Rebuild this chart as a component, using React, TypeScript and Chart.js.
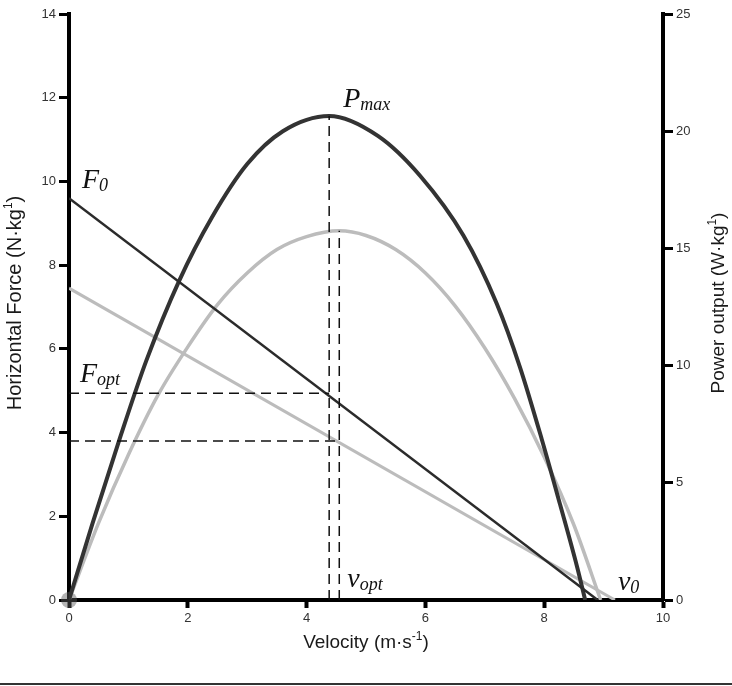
import React, { useEffect, useRef } from "react";
import { Chart, registerables } from "chart.js";

Chart.register(...registerables);

// ---- axis ranges / ticks ----
const velocityTicks = [0, 2, 4, 6, 8, 10];
const forceTicks = [0, 2, 4, 6, 8, 10, 12, 14];
const powerTicks = [0, 5, 10, 15, 20, 25];

// ---- power–velocity curves (W·kg-1) ----
const darkPowerVelocity = [0, 0.4, 0.85, 1.3, 1.86, 2.4, 3.0, 3.6, 4.38, 5.2, 5.91, 6.64, 7.2, 7.59, 7.96, 8.27, 8.55, 8.69];
const darkPowerOutput = [0, 3.3, 6.85, 10.2, 13.65, 16.3, 18.6, 20.0, 20.65, 19.8, 18.1, 15.55, 12.65, 9.95, 6.85, 4.05, 1.45, 0];

const lightPowerVelocity = [0, 0.5, 1.0, 1.5, 2.0, 2.5, 3.0, 3.5, 4.0, 4.55, 5.0, 5.5, 6.0, 6.5, 7.0, 7.5, 8.0, 8.5, 8.95];
const lightPowerOutput = [0, 3.3, 6.2, 8.75, 10.8, 12.6, 13.95, 14.95, 15.5, 15.75, 15.55, 14.95, 13.95, 12.55, 10.75, 8.6, 6.1, 3.2, 0];

// ---- force–velocity lines (N·kg-1) ----
const darkForceVelocity = [0, 8.9];
const darkForce = [9.6, 0];
const lightForceVelocity = [0, 9.19];
const lightForce = [7.45, 0];

// ---- optimal values [dark, light] ----
const vOpt = [4.38, 4.55];
const pMax = [20.65, 15.75];
const fOpt = [4.94, 3.8];

const SANS = "'Liberation Sans', Arial, sans-serif";
const SERIF = "'Liberation Serif', 'Times New Roman', serif";

const zip = (xs: number[], ys: number[]) => xs.map((x, i) => ({ x, y: ys[i] }));

type Run = { t: string; size: number; dy?: number; family?: string; italic?: boolean };

function runsWidth(ctx: CanvasRenderingContext2D, runs: Run[]) {
  let w = 0;
  for (const r of runs) {
    ctx.font = `${r.italic ? "italic " : ""}${r.size}px ${r.family || SANS}`;
    w += ctx.measureText(r.t).width;
  }
  return w;
}

function drawRuns(
  ctx: CanvasRenderingContext2D,
  runs: Run[],
  x: number,
  y: number,
  rot: number,
  align: "left" | "center",
  color: string
) {
  ctx.save();
  ctx.translate(x, y);
  ctx.rotate(rot);
  ctx.fillStyle = color;
  ctx.textBaseline = "alphabetic";
  ctx.textAlign = "left";
  let cx = align === "center" ? -runsWidth(ctx, runs) / 2 : 0;
  for (const r of runs) {
    ctx.font = `${r.italic ? "italic " : ""}${r.size}px ${r.family || SANS}`;
    ctx.fillText(r.t, cx, r.dy || 0);
    cx += ctx.measureText(r.t).width;
  }
  ctx.restore();
}

const annotations = {
  id: "annotations",
  afterDraw(chart: any) {
    const ctx: CanvasRenderingContext2D = chart.ctx;
    const { x, y, y1 } = chart.scales;
    const area = chart.chartArea;
    const titleColor = "#1a1a1a";
    const midY = (area.top + area.bottom) / 2;

    // axis titles
    drawRuns(
      ctx,
      [
        { t: "Velocity (m·s", size: 19 },
        { t: "-1", size: 12, dy: -8 },
        { t: ")", size: 19 },
      ],
      (area.left + area.right) / 2,
      648,
      0,
      "center",
      titleColor
    );
    drawRuns(
      ctx,
      [
        { t: "Horizontal Force (N·kg", size: 20 },
        { t: "1", size: 12, dy: -9 },
        { t: ")", size: 20 },
      ],
      21,
      midY - 4,
      -Math.PI / 2,
      "center",
      titleColor
    );
    drawRuns(
      ctx,
      [
        { t: "Power output (W·kg", size: 19 },
        { t: "1", size: 12, dy: -8 },
        { t: ")", size: 19 },
      ],
      724,
      midY - 4,
      -Math.PI / 2,
      "center",
      titleColor
    );

    // italic symbols
    const big = 28;
    const small = 18;
    const sym = (main: string, sub: string, px: number, py: number) =>
      drawRuns(
        ctx,
        [
          { t: main, size: big, family: SERIF, italic: true },
          { t: sub, size: small, family: SERIF, italic: true, dy: 3 },
        ],
        px,
        py,
        0,
        "left",
        "#111"
      );
    sym("F", "0", x.getPixelForValue(0) + 13, y.getPixelForValue(darkForce[0]) - 10);
    sym("P", "max", x.getPixelForValue(vOpt[0]) + 14, y1.getPixelForValue(pMax[0]) - 9);
    sym("F", "opt", x.getPixelForValue(0) + 11, y.getPixelForValue(fOpt[0]) - 11);
    sym("v", "opt", x.getPixelForValue(vOpt[1]) + 8, y.getPixelForValue(0) - 13);
    sym("v", "0", x.getPixelForValue(lightForceVelocity[1]) + 3, y.getPixelForValue(0) - 10);

    // bottom rule
    ctx.save();
    ctx.strokeStyle = "#333";
    ctx.lineWidth = 2;
    ctx.beginPath();
    ctx.moveTo(0, chart.height - 2);
    ctx.lineTo(chart.width, chart.height - 2);
    ctx.stroke();
    ctx.restore();
  },
};

export default function App() {
  const ref = useRef<HTMLCanvasElement>(null);

  useEffect(() => {
    if (!ref.current) return;
    const dash = [10, 6];
    const dashed = (data: { x: number; y: number }[], axis: string) => ({
      data,
      yAxisID: axis,
      borderColor: "#111",
      borderWidth: 1.5,
      borderDash: dash,
      pointRadius: 0,
      fill: false,
      tension: 0,
    });

    const tickFont = { family: SANS, size: 13 };

    const chart = new Chart(ref.current, {
      type: "line",
      data: {
        datasets: [
          dashed(zip([vOpt[0], vOpt[0]], [0, pMax[0]]), "y1"),
          dashed(zip([vOpt[1], vOpt[1]], [0, pMax[1]]), "y1"),
          dashed(zip([0, vOpt[0]], [fOpt[0], fOpt[0]]), "y"),
          dashed(zip([0, vOpt[1]], [fOpt[1], fOpt[1]]), "y"),
          {
            data: zip(darkForceVelocity, darkForce),
            yAxisID: "y",
            borderColor: "#2b2b2b",
            borderWidth: 2.5,
            pointRadius: 0,
            tension: 0,
          },
          {
            data: zip(darkPowerVelocity, darkPowerOutput),
            yAxisID: "y1",
            borderColor: "#333333",
            borderWidth: 4,
            pointRadius: 0,
            cubicInterpolationMode: "monotone",
          },
          {
            data: zip(lightForceVelocity, lightForce),
            yAxisID: "y",
            borderColor: "#bcbcbc",
            borderWidth: 3,
            pointRadius: 0,
            tension: 0,
          },
          {
            data: zip(lightPowerVelocity, lightPowerOutput),
            yAxisID: "y1",
            borderColor: "#bcbcbc",
            borderWidth: 3.5,
            pointRadius: 0,
            cubicInterpolationMode: "monotone",
          },
          {
            type: "scatter",
            data: [{ x: 0, y: 0 }],
            yAxisID: "y",
            pointRadius: 8,
            pointBackgroundColor: "rgba(90,90,90,0.45)",
            pointBorderWidth: 0,
            clip: false,
          } as any,
        ] as any,
      },
      options: {
        animation: false,
        responsive: false,
        events: [],
        layout: { padding: { top: 14, left: 0, right: 0, bottom: 0 } },
        plugins: { legend: { display: false }, tooltip: { enabled: false } },
        scales: {
          x: {
            type: "linear",
            min: velocityTicks[0],
            max: velocityTicks[velocityTicks.length - 1],
            afterFit: (s: any) => {
              s.height = 86;
            },
            afterBuildTicks: (s: any) => {
              s.ticks = velocityTicks.map((v) => ({ value: v }));
            },
            border: { display: true, color: "#000", width: 4 },
            grid: {
              display: true,
              drawOnChartArea: false,
              drawTicks: true,
              tickLength: 8,
              tickWidth: 4,
              tickColor: "#000",
            },
            ticks: { color: "#333", padding: 3, font: tickFont },
          },
          y: {
            type: "linear",
            position: "left",
            min: forceTicks[0],
            max: forceTicks[forceTicks.length - 1],
            afterFit: (s: any) => {
              s.width = 69;
            },
            afterBuildTicks: (s: any) => {
              s.ticks = forceTicks.map((v) => ({ value: v }));
            },
            border: { display: true, color: "#000", width: 4 },
            grid: {
              display: true,
              drawOnChartArea: false,
              drawTicks: true,
              tickLength: 10,
              tickWidth: 3,
              tickColor: "#000",
            },
            ticks: { color: "#333", padding: 3, font: tickFont },
          },
          y1: {
            type: "linear",
            position: "right",
            min: powerTicks[0],
            max: powerTicks[powerTicks.length - 1],
            afterFit: (s: any) => {
              s.width = 69;
            },
            afterBuildTicks: (s: any) => {
              s.ticks = powerTicks.map((v) => ({ value: v }));
            },
            border: { display: true, color: "#000", width: 4 },
            grid: {
              display: true,
              drawOnChartArea: false,
              drawTicks: true,
              tickLength: 10,
              tickWidth: 3,
              tickColor: "#000",
            },
            ticks: { color: "#333", padding: 3, font: tickFont },
          },
        },
      } as any,
      plugins: [annotations],
    });
    return () => chart.destroy();
  }, []);

  return (
    <div
      style={{
        position: "absolute",
        left: 0,
        top: 0,
        width: 732,
        height: 686,
        background: "#fff",
        overflow: "hidden",
      }}
    >
      <canvas ref={ref} width={732} height={686} style={{ display: "block", width: 732, height: 686 }} />
    </div>
  );
}
